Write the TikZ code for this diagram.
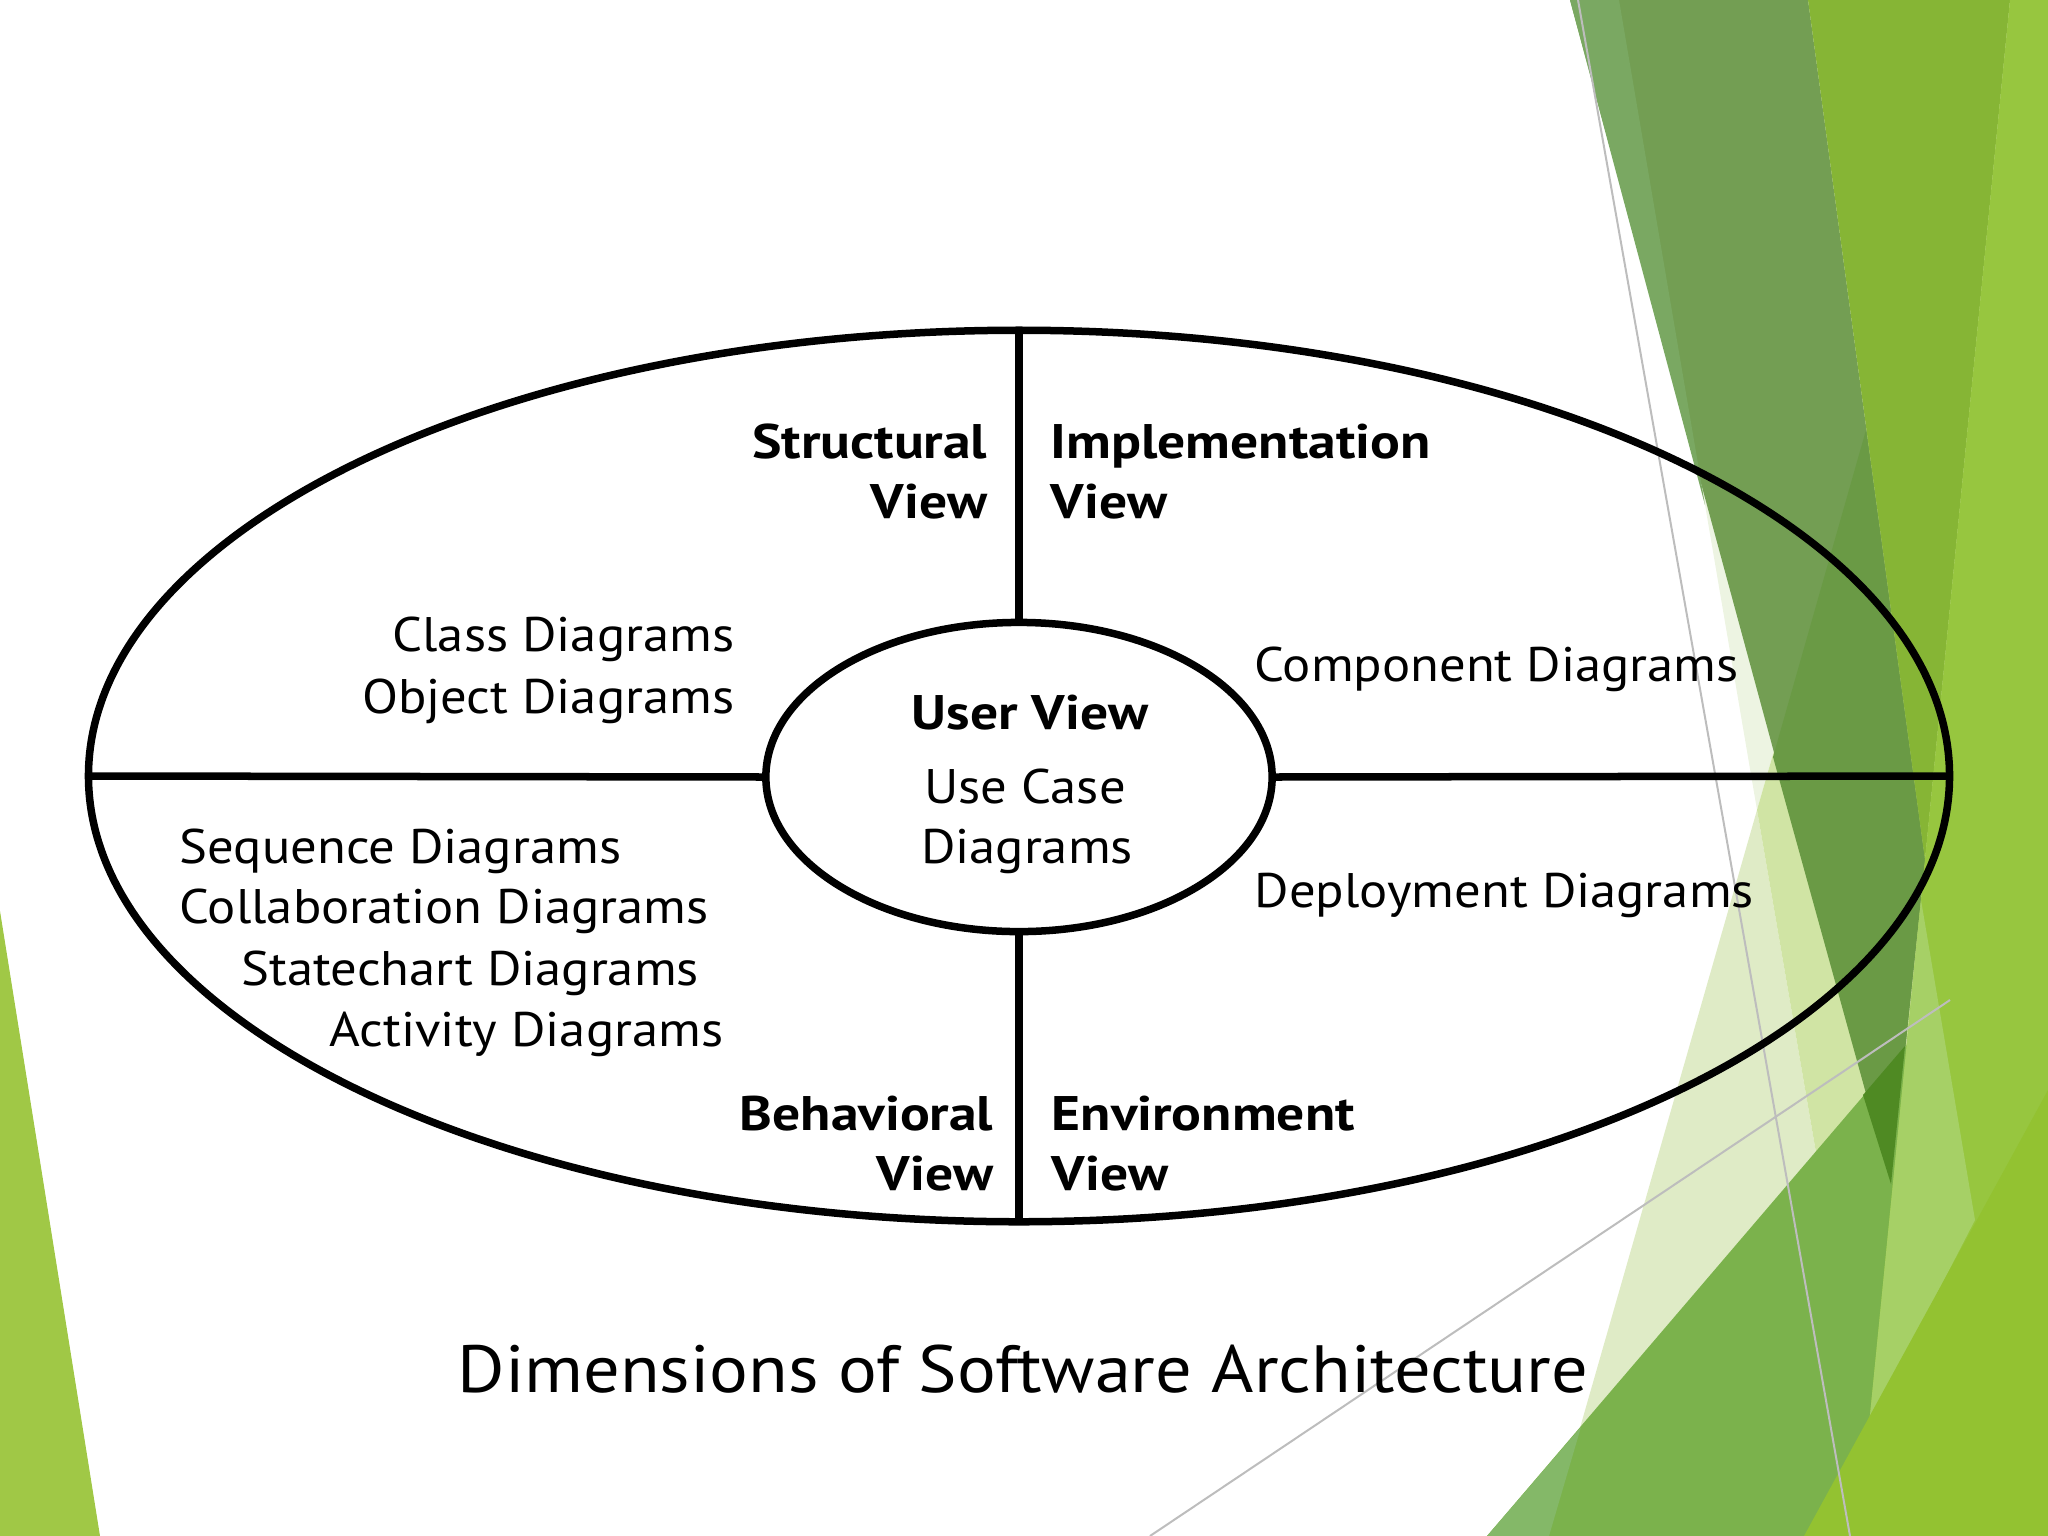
\documentclass[tikz,border=0pt]{standalone}
\usepackage{fontspec}
\setmainfont{PT Sans}[FakeStretch=1.085]
\newfontfamily\viewfont{PT Sans}[FakeStretch=1.145]
\usetikzlibrary{shapes.geometric, positioning}
\definecolor{leafgreen}{HTML}{A0C846}
\definecolor{palet}{HTML}{DFEBC6}
\definecolor{palep}{HTML}{EDF4E2}
\definecolor{paletp}{HTML}{D0E4A4}
\definecolor{bandolive}{HTML}{739E53}
\definecolor{bandlight}{HTML}{7AA862}
\definecolor{banddeep}{HTML}{6A9A45}
\definecolor{grassgreen}{HTML}{86B535}
\definecolor{midgreen}{HTML}{7BB24C}
\definecolor{midlight}{HTML}{84B868}
\definecolor{tipgreen}{HTML}{4F8A23}
\definecolor{limegreen}{HTML}{97C63F}
\definecolor{limelight}{HTML}{A6D066}
\definecolor{limebottom}{HTML}{93C231}
\definecolor{rulegray}{HTML}{BDBDBD}
\tikzset{
    facet/.style = {draw=none},
    view label/.style = {inner sep=0pt, font=\fontsize{13.8}{16}\viewfont\bfseries},
    diagram label/.style = {inner sep=0pt, font=\fontsize{13.8}{16}\selectfont},
}
\tikzset{
    divider/.style = {draw, line width=0.075cm},
    ring/.style = {ellipse, draw, line width=0.075cm, inner sep=0pt, outer sep=0pt},
}

\begin{document}
\begin{tikzpicture}[x=0.01cm, y=-0.01cm]
        \useasboundingbox (0,0) rectangle (2048,1536);

        % background facets
        \fill[facet, leafgreen] (0,911) -- (100,1536) -- (0,1536) -- cycle;
        \fill[facet, palep] (1619,0) -- (1990,0) -- (1757,810) -- cycle;
        \fill[facet, palet] (1757,810) -- (1882,1536) -- (1549,1536) -- cycle;
        \fill[facet, paletp] (1990,0) -- (2048,0) -- (2048,1536) -- (1882,1536) -- (1757,810) -- cycle;
        \fill[facet, bandolive] (1570,0) -- (1808,0) -- (1925,860) -- (1891,1184) -- cycle;
        \fill[facet, bandlight] (1570,0) -- (1619,0) -- (1705,505) -- cycle;
        \fill[facet, banddeep] (1866,430) -- (1925,860) -- (1891,1184) -- (1773,757) -- cycle;
        \fill[facet, grassgreen] (1808,0) -- (2010,0) -- (1925,860) -- cycle;
        \fill[facet, midgreen] (1487,1536) -- (2048,880) -- (2048,1536) -- cycle;
        \fill[facet, midlight] (1487,1536) -- (1549,1536) -- (1581,1427) -- cycle;
        \fill[facet, tipgreen] (1863,1095) -- (1905,1046) -- (1891,1184) -- cycle;
        \fill[facet, limegreen] (2010,0) -- (2048,0) -- (2048,1536) -- (1858,1536) -- cycle;
        \fill[facet, limelight] (1921,900) -- (1975,1220) -- (1869,1425) -- cycle;
        \fill[facet, limebottom] (1804,1536) -- (2048,1090) -- (2048,1536) -- cycle;
        \draw[rulegray, line width=0.02cm] (1578,0) -- (1850,1536);
        \draw[rulegray, line width=0.02cm] (1150,1536) -- (1950,1000);

        \node[ring, minimum width=18.6cm, minimum height=8.91cm] (outer) at (1019,776) {};
        \node[ring, minimum width=5.06cm, minimum height=3.09cm] (inner) at (1019,777) {};

        \draw[divider] (outer.north) -- (inner.north);
        \draw[divider] (inner.south) -- (outer.south);
        \draw[divider] (outer.west) -- (inner.west);
        \draw[divider] (inner.east) -- (outer.east);

        \node[view label, anchor=base east] (structural) at (988,458) {Structural};
        \node[view label, anchor=base east] (structuralv) at (988,518) {View};
        \node[view label, anchor=base west] (implementation) at (1050,458) {Implementation};
        \node[view label, anchor=base west] (implementationv) at (1050,518) {View};
        \node[view label, anchor=base east] (behavioral) at (994,1130) {Behavioral};
        \node[view label, anchor=base east] (behavioralv) at (994,1190) {View};
        \node[view label, anchor=base west] (environment) at (1051,1130) {Environment};
        \node[view label, anchor=base west] (environmentv) at (1051,1190) {View};
        \node[view label, anchor=base] (user) at (1030,729) {User View};

        \node[diagram label, anchor=base] (usecase) at (1025,803) {Use Case};
        \node[diagram label, anchor=base] (usecased) at (1027,863) {Diagrams};
        \node[diagram label, anchor=base east] (class) at (735,651) {Class Diagrams};
        \node[diagram label, anchor=base east] (object) at (735,713) {Object Diagrams};
        \node[diagram label, anchor=base west] (component) at (1254,681) {Component Diagrams};
        \node[diagram label, anchor=base west] (deployment) at (1254,907) {Deployment Diagrams};
        \node[diagram label, anchor=base west] (sequence) at (179,863) {Sequence Diagrams};
        \node[diagram label, anchor=base west] (collaboration) at (179,923) {Collaboration Diagrams};
        \node[diagram label, anchor=base west] (statechart) at (241,985) {Statechart Diagrams};
        \node[diagram label, anchor=base west] (activity) at (329,1046) {Activity Diagrams};

        \node[inner sep=0pt, anchor=base, font=\fontsize{19}{23}\selectfont] (title) at (1023,1392) {Dimensions of Software Architecture};
    \end{tikzpicture}
\end{document}
